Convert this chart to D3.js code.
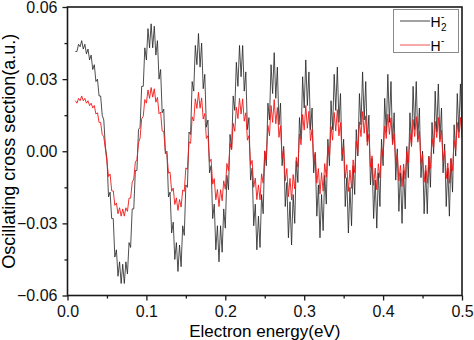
<!DOCTYPE html>
<html>
<head>
<meta charset="utf-8">
<script src="https://cdn.jsdelivr.net/npm/d3@7"></script>
<style>
  body { margin: 0; background: #fff; }
  svg { display: block; font-family: "Liberation Sans", Arial, sans-serif; }
</style>
</head>
<body>
<svg width="474" height="340"></svg>
<script>
const svg     = d3.select("svg"),
      plotL   = 67.5,
      plotR   = 462,
      plotT   = 7,
      plotB   = 295.5

// energy grid the curves were read on (eV): first sample and spacing
const energyStart = 0.010,
      energyStep  = 0.002

// oscillating cross section of H2- at each grid point
const h2Values = [
  0.0415,0.0415,0.0445,0.0435,0.046,0.0425,0.0445,0.0405,0.0425,0.038,
  0.040,0.034,0.036,0.029,0.030,0.023,0.023,0.015,0.013,0.002,
  -0.003,-0.019,-0.017,-0.028,-0.028,-0.044,-0.041,-0.052,-0.046,-0.055,
  -0.047,-0.055,-0.046,-0.051,-0.038,-0.040,-0.024,-0.024,-0.008,-0.008,
  0.009,0.010,0.027,0.027,0.043,0.038,0.051,0.043,0.053,0.043,
  0.052,0.040,0.046,0.030,0.034,0.016,0.0175,-0.001,0.000,-0.019,
  -0.017,-0.034,-0.0295,-0.045,-0.038,-0.050,-0.039,-0.048,-0.031,-0.035,
  -0.014,-0.015,0.008,0.007,0.029,0.025,0.044,0.036,0.049,0.035,
  0.045,0.026,0.032,0.010,0.013,-0.009,-0.006,-0.028,-0.022,-0.041,
  -0.031,-0.046,-0.031,-0.042,-0.024,-0.032,-0.010,-0.016,0.007,0.001,
  0.023,0.017,0.037,0.027,0.044,0.031,0.044,0.025,0.033,0.009,
  0.014,-0.012,-0.007,-0.031,-0.022,-0.041,-0.027,-0.040,-0.018,-0.026,
  0.000,-0.006,0.020,0.013,0.036,0.024,0.041,0.022,0.035,0.011,
  0.020,-0.006,0.002,-0.023,-0.013,-0.036,-0.021,-0.039,-0.018,-0.030,
  -0.004,-0.013,0.014,0.005,0.031,0.018,0.038,0.019,0.033,0.009,
  0.018,-0.009,-0.001,-0.027,-0.014,-0.036,-0.018,-0.033,-0.010,-0.022,
  0.005,-0.006,0.021,0.009,0.032,0.017,0.035,0.012,0.024,-0.004,
  0.005,-0.023,-0.011,-0.034,-0.015,-0.031,-0.006,-0.018,0.009,-0.002,
  0.024,0.011,0.033,0.013,0.029,0.004,0.015,-0.014,-0.003,-0.028,
  -0.012,-0.032,-0.009,-0.023,0.005,-0.006,0.022,0.008,0.032,0.012,
  0.029,0.003,0.016,-0.012,0.001,-0.025,-0.009,-0.030,-0.008,-0.024,
  0.002,-0.011,0.016,0.002,0.027,0.009,0.029,0.005,0.018,-0.011,
  0.000,-0.026,-0.008,-0.026,-0.002,-0.015,0.012,-0.001,0.025,0.008,
  0.028,0.005,0.018,-0.009,0.003,-0.023,-0.007,-0.027,-0.003,-0.017,
  0.011,-0.002,0.024,0.008,0.028,0.008
]

// oscillating cross section of H-, same grid
const hMinusValues = [
  0.021,0.020,0.022,0.021,0.023,0.021,0.022,0.020,0.021,0.019,
  0.020,0.018,0.019,0.0155,0.016,0.012,0.012,0.007,0.006,0.001,
  -0.0045,-0.0105,-0.0095,-0.0165,-0.0165,-0.0225,-0.0215,-0.026,-0.0235,-0.027,
  -0.024,-0.027,-0.0235,-0.025,-0.0195,-0.0195,-0.013,-0.0115,-0.0045,-0.0035,
  0.0035,0.0055,0.0135,0.0145,0.0215,0.020,0.0255,0.022,0.0265,0.0225,
  0.026,0.0204,0.0224,0.0156,0.0163,0.0084,0.0082,0.000,-0.001,-0.0091,
  -0.0087,-0.0167,-0.0153,-0.0221,-0.0194,-0.0246,-0.0201,-0.0232,-0.0161,-0.0167,
  -0.0069,-0.0076,0.0039,0.0033,0.0143,0.0126,0.0218,0.0178,0.0245,0.0179,
  0.0222,0.0134,0.0157,0.0053,0.0065,-0.0045,-0.0033,-0.0137,-0.0114,-0.0202,
  -0.0159,-0.023,-0.016,-0.0206,-0.0123,-0.0158,-0.0051,-0.0081,0.0032,0.0006,
  0.0116,0.0083,0.0183,0.0136,0.022,0.0155,0.0218,0.0125,0.016,0.0046,
  0.0065,-0.0058,-0.0038,-0.015,-0.0112,-0.0201,-0.014,-0.0202,-0.0094,-0.0133,
  0.0002,-0.0034,0.0108,0.0064,0.019,0.012,0.0215,0.0114,0.0182,0.0058,
  0.0106,-0.0031,0.0011,-0.0123,-0.0072,-0.0189,-0.0113,-0.0203,-0.0097,-0.0157,
  -0.0025,-0.0066,0.0072,0.0027,0.0153,0.0088,0.019,0.0096,0.0166,0.0044,
  0.0091,-0.0046,-0.0003,-0.0133,-0.0072,-0.0178,-0.0089,-0.0166,-0.0051,-0.0108,
  0.0022,-0.0027,0.0103,0.0046,0.0161,0.0084,0.0173,0.0064,0.0119,-0.0016,
  0.0024,-0.0112,-0.0056,-0.0167,-0.0078,-0.0154,-0.0036,-0.0089,0.0042,-0.0005,
  0.0122,0.0061,0.0165,0.0075,0.0147,0.0024,0.0071,-0.0066,-0.0019,-0.0142,
  -0.007,-0.016,-0.0052,-0.0111,0.0021,-0.0021,0.0105,0.0053,0.0154,0.007,
  0.0139,0.0027,0.0073,-0.0052,-0.0008,-0.0123,-0.0059,-0.0147,-0.0053,-0.0116,
  -0.0001,-0.0047,0.0074,0.0023,0.0132,0.0061,0.0144,0.0038,0.0083,-0.005,
  -0.0012,-0.0129,-0.0058,-0.0133,-0.0024,-0.0072,0.0054,0.0009,0.0124,0.0057,
  0.0141,0.0038,0.0088,-0.0038,0.0003,-0.0114,-0.0049,-0.0133,-0.0031,-0.0081,
  0.0045,0.0003,0.012,0.0055,0.0141,0.0056
]

const xTicks      = [0, 0.1, 0.2, 0.3, 0.4, 0.5],
      xMinorTicks = [0.05, 0.15, 0.25, 0.35, 0.45],
      yTicks      = [-0.06, -0.03, 0, 0.03, 0.06],
      yMinorTicks = [-0.045, -0.015, 0.015, 0.045]

const x = d3.scaleLinear().domain([0, 0.5]).range([plotL, plotR]),
      y = d3.scaleLinear().domain([-0.06, 0.06]).range([plotB, plotT])

const line = d3.line()
  .x((d, i) => x(energyStart + i * energyStep))
  .y((d) => y(d))

svg.append("defs").append("clipPath").attr("id", "plot")
  .append("rect")
    .attr("x", plotL).attr("y", plotT)
    .attr("width", plotR - plotL).attr("height", plotB - plotT)

const curves = svg.append("g").attr("clip-path", "url(#plot)")

curves.append("path")
  .datum(h2Values)
  .attr("d", line)
  .style("fill", "none")
  .style("stroke", "#222")
  .style("stroke-width", 0.8)

curves.append("path")
  .datum(hMinusValues)
  .attr("d", line)
  .style("fill", "none")
  .style("stroke", "#f01818")
  .style("stroke-width", 0.9)

// axes
function styleAxis(g) {
  g.select(".domain").remove()
  g.selectAll("line").style("stroke", "#1a1a1a").style("stroke-width", 1.3)
  g.selectAll("text").style("font-size", "16px").style("fill", "#111")
}

svg.append("g")
    .attr("transform", `translate(0,${plotB})`)
    .call(d3.axisBottom(x).tickValues(xTicks).tickSize(5).tickPadding(5).tickFormat(d3.format(".1f")))
    .call(styleAxis)

svg.append("g")
    .attr("transform", `translate(0,${plotB})`)
    .call(d3.axisBottom(x).tickValues(xMinorTicks).tickSize(3).tickFormat(""))
    .call(styleAxis)

svg.append("g")
    .attr("transform", `translate(${plotL},0)`)
    .call(d3.axisLeft(y).tickValues(yTicks).tickSize(5).tickPadding(5).tickFormat(d3.format(".2f")))
    .call(styleAxis)

svg.append("g")
    .attr("transform", `translate(${plotL},0)`)
    .call(d3.axisLeft(y).tickValues(yMinorTicks).tickSize(3).tickFormat(""))
    .call(styleAxis)

// frame
svg.append("rect")
  .attr("x", plotL).attr("y", plotT)
  .attr("width", plotR - plotL).attr("height", plotB - plotT)
  .style("fill", "none")
  .style("stroke", "#1a1a1a")
  .style("stroke-width", 1.6)

// axis titles
svg.append("text")
  .attr("x", (plotL + plotR) / 2)
  .attr("y", 337)
  .style("text-anchor", "middle")
  .style("font-size", "17px")
  .text("Electron energy(eV)")

svg.append("text")
  .attr("transform", `translate(15,${(plotT + plotB) / 2}) rotate(-90)`)
  .style("text-anchor", "middle")
  .style("font-size", "18px")
  .text("Oscillating cross section(a.u.)")

// legend
const legend = svg.append("g")
legend.append("rect")
  .attr("x", 393.5).attr("y", 9.5).attr("width", 65).attr("height", 43)
  .style("fill", "#fff").style("stroke", "#8a8a8a").style("stroke-width", 1)

const legendItems = [
  {color: "#444", sub: "2", y: 21},
  {color: "#ee5555", sub: "",  y: 45}
]

legendItems.forEach(function(d) {
  legend.append("line")
    .attr("x1", 400).attr("x2", 430)
    .attr("y1", d.y).attr("y2", d.y)
    .style("stroke", d.color).style("stroke-width", 1)
  legend.append("text")
    .attr("x", 430.5).attr("y", d.y + 5.5)
    .style("font-size", "14px")
    .text("H")
  legend.append("text")
    .attr("x", 441).attr("y", d.y - 1)
    .style("font-size", "10px")
    .text("-")
  if (d.sub) {
    legend.append("text")
      .attr("x", 441).attr("y", d.y + 9.5)
      .style("font-size", "10px")
      .text(d.sub)
  }
})
</script>
</body>
</html>
